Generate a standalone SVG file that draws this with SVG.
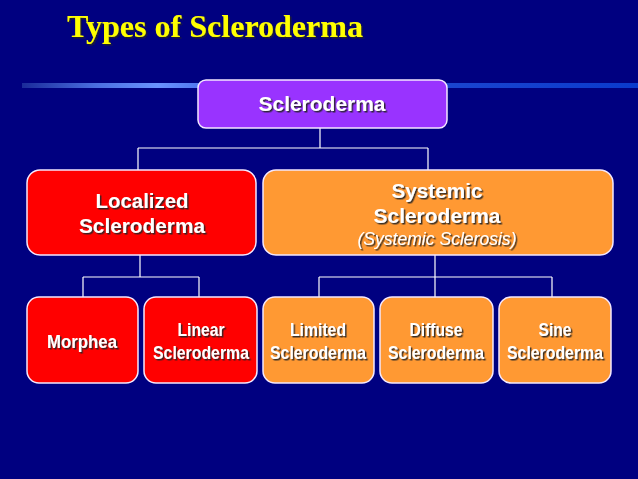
<svg xmlns="http://www.w3.org/2000/svg" width="638" height="479" viewBox="0 0 638 479">
<defs>
<linearGradient id="bar" x1="0" x2="1" y1="0" y2="0">
<stop offset="0" stop-color="#1a2a99"/>
<stop offset="0.12" stop-color="#4a6ee0"/>
<stop offset="0.22" stop-color="#6a93ff"/>
<stop offset="0.35" stop-color="#3a5ee0"/>
<stop offset="0.6" stop-color="#1f48d0"/>
<stop offset="1" stop-color="#0a3acc"/>
</linearGradient>
<filter id="sh" x="-10%" y="-20%" width="130%" height="150%">
<feDropShadow dx="1.5" dy="1.5" stdDeviation="0.4" flood-color="#202020" flood-opacity="0.9"/>
</filter>
</defs>
<style>
.box{stroke:#f4e8ff;stroke-width:1.5}
.purple{fill:#9933ff}
.red{fill:#ff0000}
.orange{fill:#ff9933}
.t{font-family:"Liberation Sans",Arial,sans-serif;font-weight:bold;fill:#ffffff;text-anchor:middle;filter:url(#sh)}
.it{font-family:"Liberation Sans",Arial,sans-serif;font-style:italic;fill:#ffffff;text-anchor:middle;filter:url(#sh)}
.conn{stroke:#ffffff;stroke-width:1.2;fill:none}
</style>
<rect width="638" height="479" fill="#000080"/>
<text x="67" y="37" font-family="'Liberation Serif','Times New Roman',serif" font-weight="bold" font-size="32" fill="#ffff00" textLength="296" lengthAdjust="spacingAndGlyphs" filter="url(#sh)">Types of Scleroderma</text>
<rect x="22" y="83" width="616" height="5" fill="url(#bar)"/>
<g id="connectors">
<path class="conn" d="M320 128 V148 M138 148 H428 M138 148 V170 M428 148 V170"/>
<path class="conn" d="M140 255 V277 M83 277 H199 M83 277 V297 M199 277 V297"/>
<path class="conn" d="M435 255 V277 M319 277 H552 M319 277 V297 M435 277 V297 M552 277 V297"/>
</g>
<g id="scleroderma">
<rect class="box purple" x="198" y="80" width="249" height="48" rx="8"/>
<text class="t" x="322" y="111" font-size="20" textLength="127" lengthAdjust="spacingAndGlyphs">Scleroderma</text>
</g>
<g id="localized">
<rect class="box red" x="27" y="170" width="229" height="85" rx="13"/>
<text class="t" x="142" y="208" font-size="20.5" textLength="93" lengthAdjust="spacingAndGlyphs">Localized</text>
<text class="t" x="142" y="233" font-size="20.5" textLength="126" lengthAdjust="spacingAndGlyphs">Scleroderma</text>
</g>
<g id="systemic">
<rect class="box orange" x="263" y="170" width="350" height="85" rx="13"/>
<text class="t" x="437" y="198" font-size="20.5" textLength="91" lengthAdjust="spacingAndGlyphs">Systemic</text>
<text class="t" x="437" y="223" font-size="20.5" textLength="127" lengthAdjust="spacingAndGlyphs">Scleroderma</text>
<text class="it" x="437" y="245" font-size="17.5" textLength="159" lengthAdjust="spacingAndGlyphs">(Systemic Sclerosis)</text>
</g>
<g id="morphea">
<rect class="box red" x="27" y="297" width="111" height="86" rx="12"/>
<text class="t" x="82" y="348" font-size="18.5" textLength="70" lengthAdjust="spacingAndGlyphs">Morphea</text>
</g>
<g id="linear">
<rect class="box red" x="144" y="297" width="113" height="86" rx="12"/>
<text class="t" x="201" y="336" font-size="18.5" textLength="47" lengthAdjust="spacingAndGlyphs">Linear</text>
<text class="t" x="201" y="359" font-size="18.5" textLength="96" lengthAdjust="spacingAndGlyphs">Scleroderma</text>
</g>
<g id="limited">
<rect class="box orange" x="263" y="297" width="111" height="86" rx="12"/>
<text class="t" x="318" y="336" font-size="18.5" textLength="56" lengthAdjust="spacingAndGlyphs">Limited</text>
<text class="t" x="318" y="359" font-size="18.5" textLength="96" lengthAdjust="spacingAndGlyphs">Scleroderma</text>
</g>
<g id="diffuse">
<rect class="box orange" x="380" y="297" width="113" height="86" rx="12"/>
<text class="t" x="436" y="336" font-size="18.5" textLength="53" lengthAdjust="spacingAndGlyphs">Diffuse</text>
<text class="t" x="436" y="359" font-size="18.5" textLength="96" lengthAdjust="spacingAndGlyphs">Scleroderma</text>
</g>
<g id="sine">
<rect class="box orange" x="499" y="297" width="112" height="86" rx="12"/>
<text class="t" x="555" y="336" font-size="18.5" textLength="33" lengthAdjust="spacingAndGlyphs">Sine</text>
<text class="t" x="555" y="359" font-size="18.5" textLength="96" lengthAdjust="spacingAndGlyphs">Scleroderma</text>
</g>
</svg>
